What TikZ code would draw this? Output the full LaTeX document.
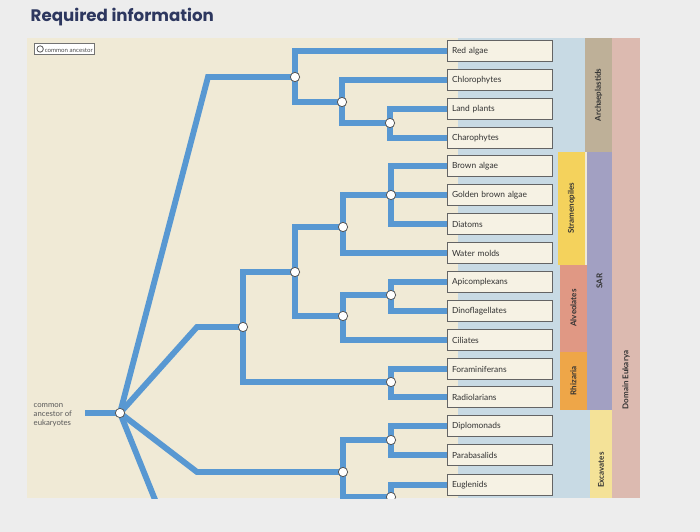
\documentclass[tikz,border=0pt]{standalone}
\usepackage{fontspec}
\setmainfont{Lato}
\newfontfamily\titlefont{Poppins}
\begin{document}
\begin{tikzpicture}[x=0.75pt,y=-0.75pt,
  br/.style={line width=4.4pt,draw=treeblue},
  taxon/.style={draw=boxgray,line width=1.1pt,fill=boxfill,minimum width=79pt,minimum height=16pt,text width=72pt,align=left,font=\fontsize{6.3}{7}\selectfont,text=black!80,inner sep=2pt},
  anc/.style={circle,draw=black!65,fill=white,line width=0.6pt,minimum size=7pt,inner sep=0pt},
  bandlbl/.style={rotate=90,font=\bfseries\fontsize{6}{7}\selectfont,text=black!80}]
\definecolor{treeblue}{RGB}{88,152,210}
\definecolor{boxgray}{RGB}{100,100,100}
\definecolor{boxfill}{RGB}{246,242,228}
\definecolor{beige}{RGB}{240,234,214}
\definecolor{lblue}{RGB}{200,218,228}
\definecolor{tan}{RGB}{190,176,152}
\definecolor{syel}{RGB}{244,210,92}
\definecolor{salmon}{RGB}{224,152,132}
\definecolor{orng}{RGB}{238,166,72}
\definecolor{sarp}{RGB}{162,160,194}
\definecolor{exy}{RGB}{244,226,152}
\definecolor{pinkd}{RGB}{220,186,176}
\definecolor{navy}{RGB}{45,55,95}
\fill[black!7] (0,0) rectangle (700,532);
\useasboundingbox (0,0) rectangle (700,532);
\fill[beige] (27,38) rectangle (640,498);
\node[anchor=west,font=\titlefont\bfseries\fontsize{12.5}{14}\selectfont,text=navy] (title) at (26,17) {Required information};
% bands
\fill[lblue] (458,38) rectangle (585,152);
\fill[lblue] (458,152) rectangle (558,265);
\fill[lblue] (458,265) rectangle (560,410);
\fill[lblue] (458,410) rectangle (590,498);
\fill[tan] (585,38) rectangle (612,152);
\fill[syel] (558,152) rectangle (585,265);
\fill[salmon] (560,265) rectangle (587,352);
\fill[orng] (560,352) rectangle (587,410);
\fill[sarp] (587,152) rectangle (612,410);
\fill[exy] (590,410) rectangle (612,498);
\fill[pinkd] (612,38) rectangle (640,498);
\node[bandlbl] (bA) at (598.5,95) {Archaeplastids};
\node[bandlbl] (bS) at (571.5,208) {Stramenopiles};
\node[bandlbl] (bAl) at (573.5,308) {Alveolates};
\node[bandlbl] (bRh) at (573.5,381) {Rhizaria};
\node[bandlbl] (bSAR) at (599.5,281) {SAR};
\node[bandlbl] (bEx) at (601,470) {Excavates};
\node[bandlbl] (bD) at (626,380) {Domain Eukarya};
% legend
\node[draw=black!55,fill=white,line width=0.8pt,anchor=west,inner sep=1.5pt,font=\fontsize{4.6}{5}\selectfont,text=black!70] (leg) at (34,49) {\tikz\draw[black!65,line width=0.6pt] (0,0) circle (2.4pt);\,common ancestor\hspace{4pt}};
\node[anchor=west,align=left,font=\fontsize{5.8}{6.8}\selectfont,text=black!65] (lbl) at (29,415) {common\\ancestor of\\eukaryotes};
% taxa
\foreach \n/\y/\t in {1/51/Red algae,2/80/Chlorophytes,3/109/Land plants,4/138/Charophytes,5/166/Brown algae,6/195/Golden brown algae,7/224/Diatoms,8/253/Water molds,9/282/Apicomplexans,10/311/Dinoflagellates,11/340/Ciliates,12/369/Foraminiferans,13/397/Radiolarians,14/426/Diplomonads,15/455/Parabasalids,16/485/Euglenids}
  \node[taxon] (t\n) at (500,\y) {\t};
% coordinates
\coordinate (R) at (120,413);
\coordinate (nA) at (295,77);
\coordinate (nB) at (342,102);
\coordinate (nC) at (390,123);
\coordinate (nS3) at (391,195);
\coordinate (nS) at (343,227);
\coordinate (nSA) at (295,272);
\coordinate (nAl) at (343,316);
\coordinate (nAp) at (391,295);
\coordinate (nSAR) at (243,327);
\coordinate (nRh) at (391,382);
\coordinate (nEx) at (343,472);
\coordinate (nDP) at (391,440);
\coordinate (nEu) at (391,497);
\coordinate (k1) at (208,77);
\coordinate (k2) at (197,327);
\coordinate (k3) at (197,472);
\coordinate (lft) at (85,413);
\coordinate (lowA) at (160,512);
\coordinate (lowB) at (343,512);
\coordinate (lowC) at (391,512);
\begin{scope}
\clip (27,38) rectangle (640,498);
\draw[br] (lft) -- (R);
\draw[br] (R) -- (k1) -- (nA);
\draw[br] (t1.west) -| (nA) |- (nB);
\draw[br] (t2.west) -| (nB) |- (nC);
\draw[br] (t3.west) -| (nC) |- (t4.west);
\draw[br] (t5.west) -| (nS3) |- (t7.west);
\draw[br] (nS3) -- (t6.west);
\draw[br] (nS3) -| (nS) |- (t8.west);
\draw[br] (nS) -| (nSA) |- (nAl);
\draw[br] (t9.west) -| (nAp) |- (t10.west);
\draw[br] (nAp) -| (nAl) |- (t11.west);
\draw[br] (nSA) -| (nSAR) |- (nRh);
\draw[br] (t12.west) -| (nRh) |- (t13.west);
\draw[br] (R) -- (k2) -- (nSAR);
\draw[br] (R) -- (k3) -- (nEx);
\draw[br] (t14.west) -| (nDP) |- (t15.west);
\draw[br] (nDP) -| (nEx) -- (lowB);
\draw[br] (nEx |- nEu) -- (nEu);
\draw[br] (t16.west) -| (lowC);
\draw[br] (R) -- (lowA);
\foreach \c in {R,nA,nB,nC,nS3,nS,nSA,nAl,nAp,nSAR,nRh,nEx,nDP,nEu}
  \node[anc] (o\c) at (\c) {};
\end{scope}
\end{tikzpicture}
\end{document}
